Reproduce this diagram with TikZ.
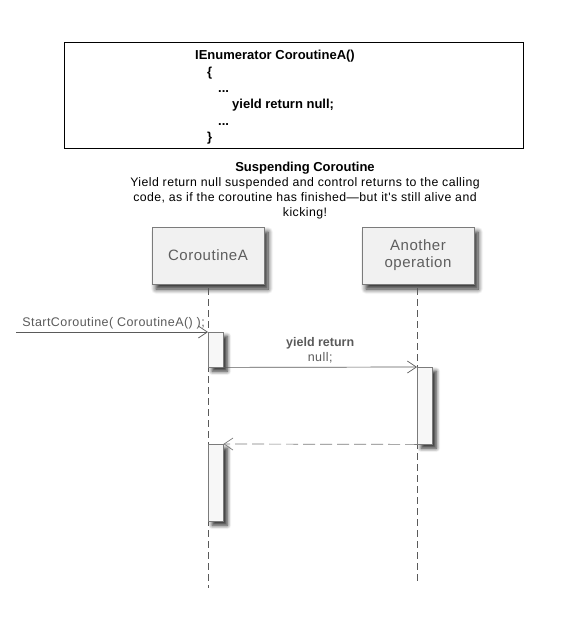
\documentclass[tikz,border=0pt]{standalone}
\usepackage{fontspec}
\setmainfont{Liberation Sans}
\newfontfamily\widefont{Liberation Sans}[LetterSpace=3.5]
\usetikzlibrary{arrows.meta,shadows.blur}
\definecolor{lineGray}{HTML}{5A5A5A}
\definecolor{headText}{HTML}{5E5E5E}
\definecolor{boxFill}{HTML}{F1F1F1}

\begin{document}
\begin{tikzpicture}[x=1pt,y=-1pt,>={Straight Barb[length=9pt,width=12pt]},
    head/.style={draw=lineGray!80,fill=boxFill,minimum width=112,minimum height=57,
      align=center,font=\widefont\fontsize{15}{17}\selectfont,text=headText,
      blur shadow={shadow xshift=4pt,shadow yshift=-5pt,shadow blur radius=5pt,shadow blur steps=8,shadow opacity=85}},
    bar/.style={draw=lineGray!80,fill=boxFill!60,minimum width=15,inner sep=0,anchor=north west,
      blur shadow={shadow xshift=4pt,shadow yshift=-4pt,shadow blur radius=4pt,shadow blur steps=6,shadow opacity=85}},
    life/.style={draw=lineGray,dash pattern=on 7pt off 4pt},
    msg/.style={->,draw=lineGray,line width=0.7pt},
    ret/.style={->,draw=lineGray!80,line width=0.7pt,dash pattern=on 12pt off 5pt},
    lbl/.style={font=\widefont\fontsize{12.5}{15}\selectfont,text=lineGray,align=center}]
    \useasboundingbox (0,0) rectangle (566,618);

    % code box
    \node[draw,minimum width=459,minimum height=106] (codebox) at (293.5,95) {};
    \node[anchor=north west,inner sep=0,align=left,font=\bfseries\fontsize{13}{16.4}\selectfont] (code) at (195,50)
      {IEnumerator CoroutineA()\\
       \hspace*{12pt}\{\\
       \hspace*{23pt}...\\
       \hspace*{37pt}yield return null;\\
       \hspace*{23pt}...\\
       \hspace*{12pt}\}};

    \node[anchor=north,align=center,inner sep=0,font=\widefont\fontsize{12.3}{15}\selectfont] (caption) at (305,162)
      {{\normalfont\bfseries\fontsize{13}{15}\selectfont Suspending Coroutine}\\
       Yield return null suspended and control returns to the calling\\
       code, as if the coroutine has finished—but it's still alive and\\
       kicking!};

    % lifelines
    \node[head] (cA) at (208,255.5) {CoroutineA};
    \node[head] (op) at (418,255.5) {Another\\operation};
    \coordinate (cAend) at (208,588);
    \coordinate (opend) at (417,582);
    \draw[life] ([yshift=-4pt]cA.south) -- (cAend);
    \draw[life] ([xshift=-1pt,yshift=-4pt]op.south) -- (opend);

    % activations
    \node[bar,minimum height=35] (a1) at (208,332) {};
    \node[bar,minimum height=77] (b1) at (417,367) {};
    \node[bar,minimum height=77] (a2) at (208,444) {};

    % messages
    \coordinate (caller) at (16,332);
    \draw[msg] (caller) -- node[lbl,pos=0,anchor=south west,xshift=3pt,inner sep=3pt] {StartCoroutine( CoroutineA() );} (a1.north west);
    \draw[msg] (a1.south east) -- node[lbl,above,inner sep=4pt] {{\normalfont\bfseries yield return}\\null;} (b1.north west);
    \draw[ret] (b1.south west) -- (a2.north east);
\end{tikzpicture}
\end{document}
